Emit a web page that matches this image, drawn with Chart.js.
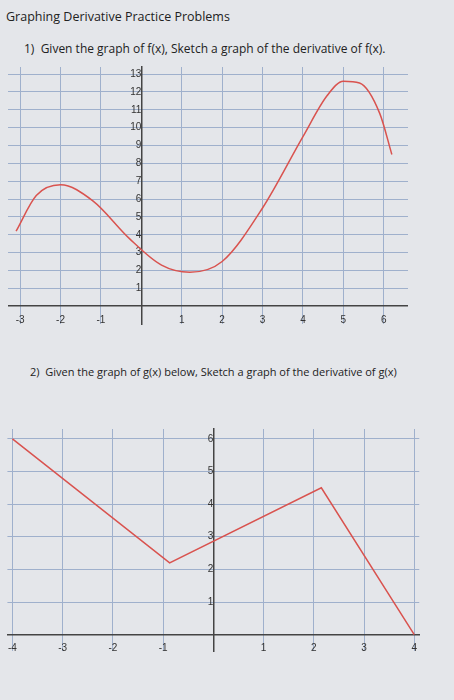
<!DOCTYPE html>
<html><head><meta charset="utf-8">
<script src="https://cdn.jsdelivr.net/npm/chart.js@4/dist/chart.umd.min.js"></script>
<style>
body{margin:0;width:454px;height:700px;background:#e4e6ea;font-family:"Open Sans",sans-serif;position:relative;overflow:hidden}
.t{position:absolute;color:#222}
#c1w{position:absolute;left:8px;top:58px;width:400px;height:275px}
#c2w{position:absolute;left:5px;top:420px;width:415px;height:240px}
</style></head><body>
<div class="t" style="left:6px;top:8px;font-size:12.5px">Graphing Derivative Practice Problems</div>
<div class="t" style="left:24px;top:40px;font-size:12px">1)&nbsp; Given the graph of f(x), Sketch a graph of the derivative of f(x).</div>
<div class="t" style="left:30px;top:364px;font-size:11px">2)&nbsp; Given the graph of g(x) below, Sketch a graph of the derivative of g(x)</div>
<div id="c1w"><canvas id="c1"></canvas></div>
<div id="c2w"><canvas id="c2"></canvas></div>
<script>
const fX=[-3.1,-2.6,-2.0,-1.2,-0.3,0.5,1.2,2.0,3.0,4.0,4.6,5.0,5.4,5.9,6.2];
const fY=[4.2,6.2,6.8,5.9,3.8,2.3,1.9,2.5,5.5,9.5,11.8,12.6,12.5,10.8,8.5];
const gX=[-4,-0.87,2.15,4];
const gY=[6,2.2,4.5,0];
const xTicks1=[-3,-2,-1,1,2,3,4,5,6];
const yTicks1=[1,2,3,4,5,6,7,8,9,10,11,12,13];
const xTicks2=[-4,-3,-2,-1,1,2,3,4];
const yTicks2=[1,2,3,4,5,6];
function mk(id,xs,ys,xmin,xmax,ymin,ymax,xt,yt,tension){
  new Chart(document.getElementById(id),{type:'line',
    data:{datasets:[{data:xs.map((x,i)=>({x:x,y:ys[i]})),borderColor:'#d9534f',borderWidth:1.5,pointRadius:0,tension:tension,cubicInterpolationMode:tension?'monotone':'default'}]},
    options:{responsive:true,maintainAspectRatio:false,animation:false,plugins:{legend:{display:false},tooltip:{enabled:false}},
      scales:{
        x:{type:'linear',min:xmin,max:xmax,position:{y:0},
          afterBuildTicks:a=>{a.ticks=xt.map(v=>({value:v}))},
          grid:{color:'#9fb0cc',drawTicks:true,tickLength:5},border:{color:'#444',width:1.5},
          ticks:{color:'#333',font:{size:10},autoSkip:false}},
        y:{type:'linear',min:ymin,max:ymax,position:{x:0},
          afterBuildTicks:a=>{a.ticks=yt.map(v=>({value:v}))},
          grid:{color:'#9fb0cc',tickLength:5},border:{color:'#444',width:1.5},
          ticks:{color:'#333',font:{size:10},autoSkip:false}}
      }}});
}
mk('c1',fX,fY,-3.3,6.6,-1,13.4,xTicks1,yTicks1,0.4);
mk('c2',gX,gY,-4.1,4.1,-0.5,6.3,xTicks2,yTicks2,0);
</script>
</body></html>
